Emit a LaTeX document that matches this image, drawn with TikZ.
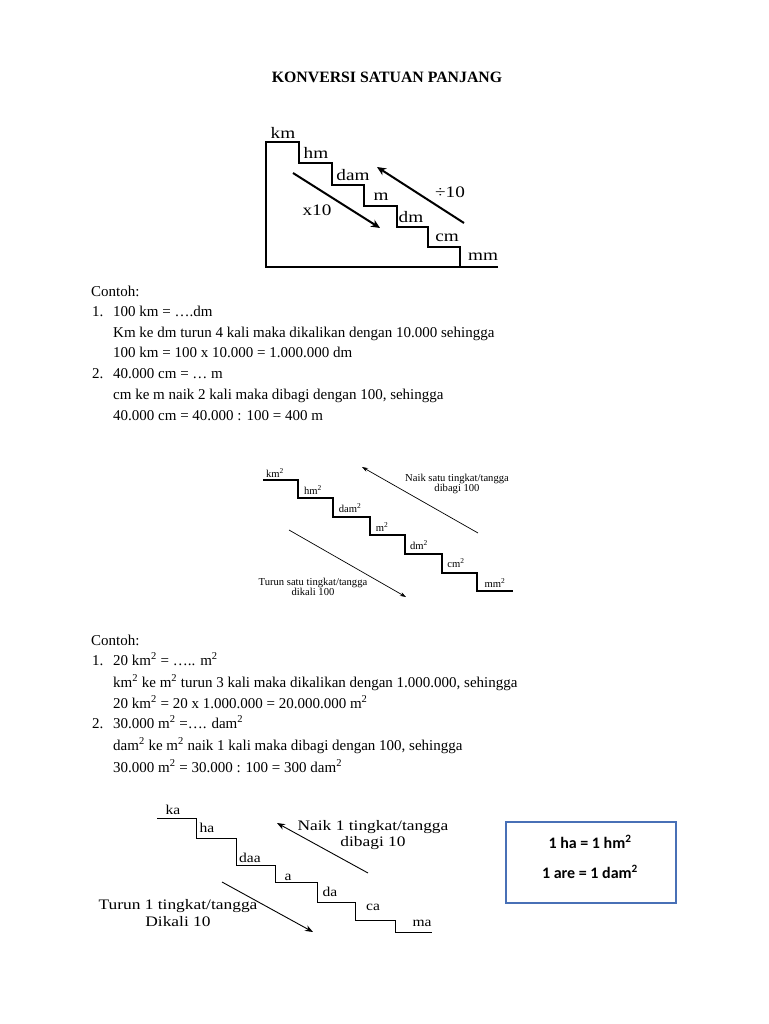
\documentclass[tikz,border=0pt]{standalone}
\usepackage{fontspec}
\setmainfont{Liberation Serif}
\newfontfamily\boxfont{Carlito}
\usetikzlibrary{arrows.meta}
\definecolor{boxblue}{RGB}{72,112,182}
\begin{document}
\begin{tikzpicture}[x=1pt,y=-1pt,
  body/.style={anchor=base west, inner sep=0pt, font=\fontsize{15}{17}\selectfont},
  lab1/.style={inner sep=0pt, xscale=1.2, font=\fontsize{16}{18}\selectfont},
  lab2/.style={inner sep=0pt, font=\fontsize{10.6}{10.4}\selectfont, align=center},
  lab3/.style={inner sep=0pt, xscale=1.15, font=\fontsize{13.5}{16.5}\selectfont, align=center},
  lab3t/.style={inner sep=0pt, xscale=1.2, font=\fontsize{14.5}{16.5}\selectfont, align=center},
  stairone/.style={line width=2.3pt, line join=miter},
  stairtwo/.style={line width=1.1pt, line join=miter},
  stairthree/.style={line width=0.8pt, line join=miter},
  arrone/.style={line width=2pt, -{Stealth[length=9pt,width=8pt]}},
  arrtwo/.style={line width=0.7pt, -{Stealth[length=6pt,width=4pt]}},
  arrthree/.style={line width=0.9pt, -{Stealth[length=8pt,width=6pt]}},
  boxtext/.style={inner sep=0pt, font=\boxfont\bfseries\fontsize{16}{18}\selectfont},
]
\useasboundingbox (0,0) rectangle (768,1024);
\fill[white] (0,0) rectangle (768,1024);

% title
\node[inner sep=0pt, font=\bfseries\fontsize{15.8}{18}\selectfont] (title) at (387,77) {KONVERSI SATUAN PANJANG};

% staircase 1
\draw[stairone] (498,267) -- (266,267) -- (266,142) -- (299,142) -- (299,163) -- (332,163) -- (332,185)
  -- (364,185) -- (364,206) -- (397,206) -- (397,227) -- (428,227) -- (428,247) -- (460,247) -- (460,267);
\node[lab1] (km) at (283,133) {km};
\node[lab1] (hm) at (316,153) {hm};
\node[lab1] (dam) at (353,175) {dam};
\node[lab1] (m) at (381,197) {m};
\node[lab1] (dm) at (411,217) {dm};
\node[lab1] (cm) at (447,238) {cm};
\node[lab1] (mm) at (483,257) {mm};
\coordinate (a1s) at (293,173); \coordinate (a1e) at (380,228);
\coordinate (a2s) at (464,223); \coordinate (a2e) at (377,167);
\draw[arrone] (a1s) -- (a1e);
\draw[arrone] (a2s) -- (a2e);
\node[lab1] (x10) at (317,210) {x10};
\node[lab1] (div10) at (450,192) {÷10};

% text block 1
\node[body] (c1) at (91,296) {Contoh:};
\node[body] (n11) at (92,316) {1.};
\node[body] (t11) at (113,316) {100 km = ….dm};
\node[body] (t12) at (113,337) {Km ke dm turun 4 kali maka dikalikan dengan 10.000 sehingga};
\node[body] (t13) at (113,357) {100 km = 100 x 10.000 = 1.000.000 dm};
\node[body] (n12) at (92,378) {2.};
\node[body] (t14) at (113,378) {40.000 cm = … m};
\node[body] (t15) at (113,399) {cm ke m naik 2 kali maka dibagi dengan 100, sehingga};
\node[body] (t16) at (113,420) {40.000 cm = 40.000 : 100 = 400 m};

% staircase 2
\draw[stairtwo] (263,480) -- (298,480) -- (298,498) -- (333,498) -- (333,517) -- (370,517) -- (370,535)
  -- (405,535) -- (405,554) -- (442,554) -- (442,573) -- (477,573) -- (477,591) -- (513,591);
\node[lab2] (km2) at (275,473) {km\textsuperscript{2}};
\node[lab2] (hm2) at (313,490) {hm\textsuperscript{2}};
\node[lab2] (dam2) at (350,508) {dam\textsuperscript{2}};
\node[lab2] (m2) at (382,527) {m\textsuperscript{2}};
\node[lab2] (dm2) at (419,545) {dm\textsuperscript{2}};
\node[lab2] (cm2) at (456,563) {cm\textsuperscript{2}};
\node[lab2] (mm2) at (495,583) {mm\textsuperscript{2}};
\coordinate (b1s) at (478,533); \coordinate (b1e) at (362,467);
\coordinate (b2s) at (289,530); \coordinate (b2e) at (406,597);
\draw[arrtwo] (b1s) -- (b1e);
\draw[arrtwo] (b2s) -- (b2e);
\node[lab2] (naik2) at (457,484) {Naik satu tingkat/tangga\\dibagi 100};
\node[lab2] (turun2) at (313,587) {Turun satu tingkat/tangga\\dikali 100};

% text block 2
\node[body] (c2) at (91,645) {Contoh:};
\node[body] (n21) at (92,665) {1.};
\node[body] (t21) at (113,665) {20 km\textsuperscript{2} = ….. m\textsuperscript{2}};
\node[body] (t22) at (113,687) {km\textsuperscript{2} ke m\textsuperscript{2} turun 3 kali maka dikalikan dengan 1.000.000, sehingga};
\node[body] (t23) at (113,708) {20 km\textsuperscript{2} = 20 x 1.000.000 = 20.000.000 m\textsuperscript{2}};
\node[body] (n22) at (92,728) {2.};
\node[body] (t24) at (113,728) {30.000 m\textsuperscript{2} =…. dam\textsuperscript{2}};
\node[body] (t25) at (113,750) {dam\textsuperscript{2} ke m\textsuperscript{2} naik 1 kali maka dibagi dengan 100, sehingga};
\node[body] (t26) at (113,772) {30.000 m\textsuperscript{2} = 30.000 : 100 = 300 dam\textsuperscript{2}};

% staircase 3
\draw[stairthree] (157,818) -- (196,818) -- (196,838) -- (236,838) -- (236,865) -- (275,865) -- (275,882)
  -- (317,882) -- (317,902) -- (355,902) -- (355,920) -- (395,920) -- (395,932) -- (432,932);
\node[lab3] (ka) at (173,810) {ka};
\node[lab3] (ha) at (207,828) {ha};
\node[lab3] (daa) at (250,858) {daa};
\node[lab3] (a) at (288,877) {a};
\node[lab3] (da) at (330,892) {da};
\node[lab3] (ca) at (373,907) {ca};
\node[lab3] (ma) at (422,923) {ma};
\coordinate (c1s) at (368,873); \coordinate (c1e) at (277,823);
\coordinate (c2s) at (222,882); \coordinate (c2e) at (313,932);
\draw[arrthree] (c1s) -- (c1e);
\draw[arrthree] (c2s) -- (c2e);
\node[lab3t] (naik3) at (373,835) {Naik 1 tingkat/tangga\\dibagi 10};
\node[lab3t] (turun3) at (178,913) {Turun 1 tingkat/tangga\\Dikali 10};

% box
\node[draw=boxblue, line width=2pt, minimum width=170pt, minimum height=81pt, inner sep=0pt] (box) at (591,862.5) {};
\node[boxtext] (ha1) at (590,842) {1 ha = 1 hm\textsuperscript{2}};
\node[boxtext] (are1) at (590,872) {1 are = 1 dam\textsuperscript{2}};
\end{tikzpicture}
\end{document}
